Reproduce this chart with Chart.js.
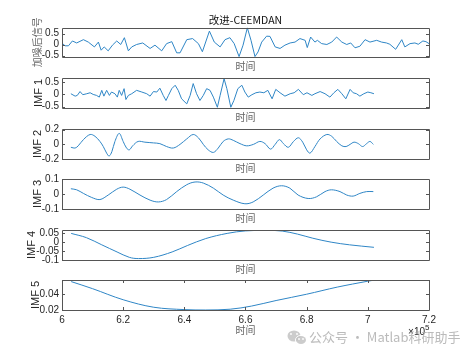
<!DOCTYPE html>
<html>
<head>
<meta charset="utf-8">
<script src="https://cdn.jsdelivr.net/npm/chart.js@4"></script>
<style>
  body { margin: 0; background: #fff; width: 474px; height: 355px; overflow: hidden; position: relative; }
  canvas { position: absolute; left: 0; }
</style>
</head>
<body>
<canvas id="p0"></canvas>
<canvas id="p1"></canvas>
<canvas id="p2"></canvas>
<canvas id="p3"></canvas>
<canvas id="p4"></canvas>
<canvas id="p5"></canvas>
<script>
// time axis values (x10^5) and the values read for every panel
var sigT = [6.002,6.01,6.021,6.034,6.048,6.07,6.086,6.106,6.119,6.128,6.138,6.151,6.165,6.179,6.192,6.204,6.217,6.228,6.244,6.264,6.288,6.304,6.326,6.342,6.359,6.375,6.386,6.408,6.427,6.446,6.459,6.482,6.498,6.517,6.533,6.549,6.563,6.579,6.592,6.606,6.618,6.631,6.641,6.653,6.669,6.68,6.697,6.713,6.729,6.746,6.762,6.778,6.795,6.802,6.813,6.827,6.835,6.849,6.866,6.882,6.898,6.915,6.931,6.944,6.958,6.974,6.991,7.007,7.029,7.045,7.061,7.072,7.091,7.111,7.121,7.138,7.154,7.165,7.18,7.19,7.2];
var sigV = [0.05,-0.05,-0.05,0.17,0.08,0.23,0.12,-0.10,0.12,-0.25,-0.10,-0.28,-0.02,0.17,0.01,0.32,-0.28,-0.10,0.01,0.08,-0.17,-0.02,-0.28,0.05,0.14,-0.37,-0.37,0.23,0.28,0.05,-0.32,0.62,0.12,-0.10,0.23,0.32,0.05,-0.54,-0.02,0.77,0.2,-0.54,-0.33,0.12,0.39,0.38,-0.10,-0.17,-0.02,0.08,0.12,0.28,0.2,-0.13,0.35,0.12,0.2,0.05,0.01,0.12,0.35,0.12,0.01,0.08,-0.14,-0.07,0.23,0.12,0.2,0.12,0.08,0.02,-0.21,0.23,-0.10,0.05,0.08,0.02,0.17,0.14,0.05];

var imf1T = [6.029,6.043,6.05,6.059,6.068,6.081,6.092,6.102,6.113,6.122,6.13,6.137,6.146,6.155,6.162,6.173,6.181,6.187,6.195,6.203,6.209,6.217,6.228,6.244,6.261,6.277,6.288,6.299,6.31,6.32,6.331,6.34,6.348,6.359,6.37,6.38,6.391,6.408,6.419,6.429,6.44,6.451,6.462,6.473,6.484,6.495,6.508,6.517,6.53,6.539,6.552,6.562,6.575,6.588,6.598,6.609,6.621,6.634,6.647,6.66,6.673,6.687,6.699,6.713,6.729,6.746,6.759,6.773,6.789,6.801,6.817,6.827,6.844,6.86,6.876,6.889,6.902,6.915,6.928,6.942,6.952,6.963,6.974,6.987,7.0,7.01,7.02];
var imf1V = [0.03,-0.07,-0.04,0.12,-0.01,0.03,0.07,0,-0.04,-0.11,0.17,-0.07,0.17,-0.04,0.1,0.03,-0.11,0.17,-0.04,0.24,-0.21,-0.04,0.03,0.17,0.1,0.03,-0.07,0.12,0.1,0.26,-0.04,-0.25,-0.04,0.24,0.38,0.17,-0.18,-0.39,-0.04,0.45,0.03,-0.25,-0.04,0.24,0.17,-0.11,-0.53,-0.04,0.65,0.24,-0.53,-0.25,0.24,0.38,0.1,-0.11,-0.01,0.07,0.1,0.07,0.17,-0.18,0.21,0.07,-0.07,0.03,0.07,0.21,-0.01,0.07,-0.04,0.03,0.12,0.03,-0.11,0.07,0.21,0.03,-0.18,0.21,0.07,0.03,-0.07,0.03,0.1,0.07,0.03];

var imf2T = [6.029,6.043,6.053,6.07,6.092,6.108,6.124,6.135,6.146,6.154,6.163,6.173,6.187,6.2,6.211,6.22,6.231,6.249,6.271,6.299,6.32,6.342,6.364,6.386,6.408,6.429,6.446,6.462,6.478,6.495,6.511,6.527,6.544,6.56,6.582,6.604,6.626,6.647,6.664,6.682,6.697,6.711,6.724,6.74,6.757,6.773,6.787,6.8,6.811,6.827,6.844,6.866,6.882,6.898,6.915,6.929,6.942,6.955,6.969,6.983,6.996,7.007,7.018];
var imf2V = [-0.04,-0.05,-0.02,0.065,0.135,0.11,0.04,-0.03,-0.12,-0.16,-0.1,0.04,0.15,0.04,-0.05,-0.075,-0.02,0.04,0.03,0.02,0.01,-0.03,-0.05,0,0.075,0.135,0.09,0,-0.075,-0.11,-0.05,0.04,0.075,0.055,0.01,-0.02,0,0.04,0.01,-0.065,0,0.065,0.01,-0.04,0.04,0.09,0.03,-0.075,-0.12,-0.03,0.075,0.135,0.11,0.04,-0.02,-0.03,0,0.03,0.01,-0.03,0.01,0.04,0];

var imf3T = [6.029,6.048,6.07,6.097,6.124,6.151,6.179,6.2,6.222,6.255,6.288,6.315,6.342,6.375,6.408,6.435,6.462,6.495,6.527,6.56,6.598,6.625,6.658,6.69,6.718,6.745,6.772,6.805,6.832,6.86,6.881,6.909,6.931,6.952,6.974,6.996,7.018];
var imf3V = [0.035,0.028,0.004,-0.023,-0.037,-0.007,0.032,0.046,0.032,-0.007,-0.041,-0.053,-0.037,0.016,0.062,0.08,0.073,0.039,-0.007,-0.041,-0.065,-0.053,-0.007,0.039,0.055,0.039,-0.007,-0.03,-0.019,0.016,0.028,0.016,-0.007,-0.014,0.004,0.016,0.016];

var imf4T = [6.03,6.08,6.13,6.18,6.22,6.25,6.30,6.36,6.41,6.47,6.54,6.60,6.67,6.72,6.77,6.82,6.88,6.94,7.02];
var imf4V = [0.049,0.025,-0.015,-0.055,-0.085,-0.092,-0.085,-0.055,-0.019,0.02,0.049,0.063,0.066,0.062,0.045,0.022,0.0,-0.015,-0.029];

var imf5T = [6.03,6.1,6.2,6.3,6.4,6.47,6.55,6.62,6.7,6.8,6.9,7.0,7.02];
var imf5V = [0.056,0.047,0.033,0.0235,0.0205,0.02,0.021,0.025,0.032,0.040,0.049,0.0565,0.0578];

var yNames = ['加噪后信号', 'IMF 1', 'IMF 2', 'IMF 3', 'IMF 4', 'IMF 5'];
var yTicks = [[-0.5, 0, 0.5], [-0.5, 0, 0.5], [-0.2, 0, 0.2], [-0.1, 0, 0.1], [-0.1, -0.05, 0, 0.05], [0.02, 0.04]];
var yRange = [[-0.56, 0.78], [-0.56, 0.68], [-0.2, 0.21], [-0.1, 0.1], [-0.1, 0.068], [0.02, 0.058]];
var xTicks = [6, 6.2, 6.4, 6.6, 6.8, 7, 7.2];
var chartTitle = '改进-CEEMDAN';
var xName = '时间';
var watermark = '公众号 · Matlab科研助手';

var series = [[sigT, sigV], [imf1T, imf1V], [imf2T, imf2V], [imf3T, imf3V], [imf4T, imf4V], [imf5T, imf5V]];

var SANS = '"Liberation Sans", Arial, sans-serif';
var CJK = '"Noto Sans CJK SC", sans-serif';
var tops = [27, 78, 129, 179, 230, 280];
var plotH = 30;
// distance of each y label from the left edge (wider tick labels push it out)
var yTitlePad = [31, 32, 31, 31, 25, 29];

// box around the plot area, MATLAB-like inward tick marks and y tick labels
var framePlugin = {
  id: 'frame',
  afterDatasetsDraw: function(chart, args, opts) {
    var a = chart.chartArea, ctx = chart.ctx;
    var ys = chart.scales.y;
    ctx.save();
    ctx.strokeStyle = '#555';
    ctx.lineWidth = 1;
    ctx.beginPath();
    ctx.rect(Math.round(a.left) + 0.5, Math.round(a.top) + 0.5, Math.round(a.right - a.left), Math.round(a.bottom - a.top));
    ys.ticks.forEach(function(t) {
      var py = Math.round(ys.getPixelForValue(t.value)) + 0.5;
      ctx.moveTo(a.left, py); ctx.lineTo(a.left + 3, py);
      ctx.moveTo(a.right - 3, py); ctx.lineTo(a.right, py);
    });
    if (opts.xTicks) {
      var xs = chart.scales.x;
      xs.ticks.forEach(function(t) {
        var px = Math.round(xs.getPixelForValue(t.value)) + 0.5;
        ctx.moveTo(px, a.top); ctx.lineTo(px, a.top + 3);
        ctx.moveTo(px, a.bottom - 3); ctx.lineTo(px, a.bottom);
      });
    }
    ctx.stroke();

    ctx.fillStyle = '#262626';
    ctx.font = '10px ' + SANS;
    ctx.textAlign = 'right';
    ctx.textBaseline = 'middle';
    ys.ticks.forEach(function(t) {
      ctx.fillText(String(t.value), a.left - 3, ys.getPixelForValue(t.value));
    });
    ctx.restore();
  }
};

// x10^5 exponent and the watermark, only on the last panel
var extrasPlugin = {
  id: 'extras',
  afterDraw: function(chart, args, opts) {
    if (!opts.show) return;
    var a = chart.chartArea, ctx = chart.ctx;
    var base = a.bottom;
    ctx.save();
    ctx.fillStyle = '#262626';
    ctx.font = '10px ' + SANS;
    ctx.textAlign = 'right';
    ctx.textBaseline = 'alphabetic';
    ctx.fillText('×10', a.right - 4, base + 25);
    ctx.font = '8px ' + SANS;
    ctx.textAlign = 'left';
    ctx.fillText('5', a.right - 4, base + 20);

    // wechat-ish icon
    ctx.fillStyle = 'rgba(195,195,195,0.85)';
    ctx.beginPath(); ctx.ellipse(294, base + 26, 6.5, 5.5, 0, 0, Math.PI * 2); ctx.fill();
    ctx.strokeStyle = '#fff'; ctx.lineWidth = 1;
    ctx.beginPath(); ctx.ellipse(301, base + 30, 5.5, 4.5, 0, 0, Math.PI * 2); ctx.stroke();
    ctx.beginPath(); ctx.ellipse(301, base + 30, 5, 4, 0, 0, Math.PI * 2); ctx.fill();
    ctx.fillStyle = '#fff';
    [[291, 24], [297, 24], [299, 29], [303, 29]].forEach(function(p) {
      ctx.beginPath(); ctx.arc(p[0], base + p[1], 0.9, 0, Math.PI * 2); ctx.fill();
    });

    ctx.fillStyle = 'rgba(170,170,170,0.8)';
    ctx.font = '13px ' + CJK;
    ctx.textAlign = 'left';
    ctx.textBaseline = 'middle';
    ctx.fillText(watermark, 309, base + 27);
    ctx.restore();
  }
};

function makePanel(i) {
  var last = i === 5;
  var xh = last ? 26 : 15;
  var padTop = i === 0 ? 1 : 6;
  var canvasTop = i === 0 ? 0 : tops[i] - 6;
  var canvasH = last ? 355 - canvasTop : (tops[i] + plotH + xh) - canvasTop;
  var padBottom = last ? canvasH - 6 - plotH - xh : 0;

  var el = document.getElementById('p' + i);
  el.width = 474;
  el.height = canvasH;
  el.style.top = canvasTop + 'px';

  var pts = series[i][0].map(function(t, k) { return { x: t, y: series[i][1][k] }; });
  var isCjk = i === 0;

  new Chart(el, {
    type: 'line',
    data: {
      datasets: [{
        data: pts,
        borderColor: '#2f86c6',
        borderWidth: 1,
        pointRadius: 0,
        tension: i >= 2 ? 0.35 : 0,
        fill: false
      }]
    },
    options: {
      responsive: false,
      animation: false,
      events: [],
      layout: { padding: { top: padTop, bottom: padBottom, left: 0, right: 45 } },
      plugins: {
        legend: { display: false },
        tooltip: { enabled: false },
        title: {
          display: i === 0,
          fullSize: false,
          text: chartTitle,
          color: '#111',
          font: { family: CJK, size: 10.5, weight: 'normal' },
          padding: { top: 13, bottom: 1 }
        },
        frame: { xTicks: last },
        extras: { show: last }
      },
      scales: {
        x: {
          type: 'linear',
          min: 6,
          max: 7.2,
          grid: { display: false, drawTicks: false },
          border: { display: false },
          afterBuildTicks: function(s) { s.ticks = xTicks.map(function(v) { return { value: v }; }); },
          afterFit: function(s) { s.height = xh; },
          ticks: {
            display: last,
            autoSkip: false,
            maxRotation: 0,
            padding: 4,
            color: '#262626',
            font: { family: SANS, size: 10 },
            callback: function(v) { return String(v); }
          },
          title: {
            display: true,
            text: xName,
            color: '#666',
            font: { family: CJK, size: 10 },
            padding: { top: 0, bottom: 0 }
          }
        },
        y: {
          min: yRange[i][0],
          max: yRange[i][1],
          grid: { display: false, drawTicks: false },
          border: { display: false },
          afterBuildTicks: function(s) { s.ticks = yTicks[i].map(function(v) { return { value: v }; }); },
          afterFit: function(s) { s.width = 62; },
          ticks: { display: false },
          title: {
            display: true,
            text: yNames[i],
            color: isCjk ? '#666' : '#262626',
            font: { family: isCjk ? CJK : SANS, size: isCjk ? 10 : 11 },
            padding: { top: yTitlePad[i], bottom: 0 }
          }
        }
      }
    },
    plugins: [framePlugin, extrasPlugin]
  });
}

for (var i = 0; i < 6; i++) makePanel(i);
</script>
</body>
</html>
